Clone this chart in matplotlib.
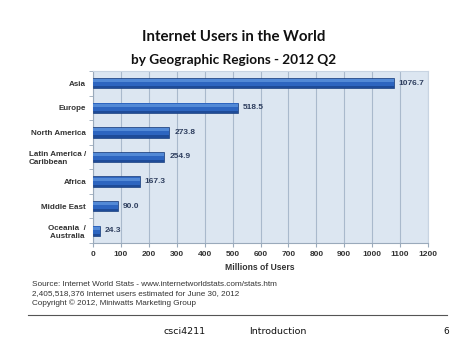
import matplotlib
matplotlib.use("Agg")
import matplotlib.pyplot as plt
import numpy as np

regions = ["Asia", "Europe", "North America", "Latin America /\nCaribbean",
           "Africa", "Middle East", "Oceania  /\n Australia"]
users = [1076.7, 518.5, 273.8, 254.9, 167.3, 90.0, 24.3]
value_labels = ["1076.7", "518.5", "273.8", "254.9", "167.3", "90.0", "24.3"]
xticks = list(range(0, 1300, 100))

title_lines = ["Internet Users in the World", "by Geographic Regions - 2012 Q2"]
xlabel = "Millions of Users"
source_lines = ["Source: Internet World Stats - www.internetworldstats.com/stats.htm",
                "2,405,518,376 Internet users estimated for June 30, 2012",
                "Copyright \u00a9 2012, Miniwatts Marketing Group"]
footer = ["csci4211", "Introduction", "6"]

W, H = 474, 355
fig = plt.figure(figsize=(W / 100, H / 100), dpi=100)
fig.patch.set_facecolor("white")

ax = fig.add_axes([93 / W, 1 - 243 / H, (428 - 93) / W, (243 - 71) / H])
ax.set_facecolor("#dce6f1")

LS = "Liberation Sans"
y = np.arange(len(regions))
ax.barh(y, users, height=0.42, color="#1e4b98", edgecolor="#1a3f80", linewidth=0.5, zorder=3)
ax.barh(y - 0.03, users, height=0.3, color="#2d65c0", linewidth=0, zorder=4)
ax.barh(y - 0.1, users, height=0.12, color="#5289d6", linewidth=0, zorder=5)

for yi, v, lab in zip(y, users, value_labels):
    ax.text(v + 18, yi, lab, va="center", ha="left", fontsize=6.0, family=LS,
            fontweight="bold", color="#2f3f5f", zorder=6)

ax.set_xlim(0, 1200)
ax.set_ylim(len(regions) - 0.5, -0.5)
ax.set_xticks(xticks)
ax.set_xticklabels([str(t) for t in xticks], fontsize=6.0, fontweight="bold",
                   family=LS, color="#333333")
ax.set_yticks(y)
ax.set_yticklabels(regions, fontsize=5.8, fontweight="bold", family=LS, color="#333333")
for t in ax.get_yticklabels():
    t.set_multialignment("left")
ax.set_yticks(np.arange(len(regions) + 1) - 0.5, minor=True)
ax.tick_params(axis="y", which="major", length=0, pad=5)
ax.tick_params(axis="y", which="minor", length=3, color="#9aaabb")
ax.tick_params(axis="x", length=3, color="#9aaabb", pad=3)
ax.grid(axis="x", color="#a9b9cc", linewidth=0.8, zorder=0)
for s in ["top", "right"]:
    ax.spines[s].set_color("#c8d4e2")
for s in ["left", "bottom"]:
    ax.spines[s].set_color("#9aaabb")

fig.text(260 / W, 1 - 268 / H, xlabel, ha="center", va="center",
         fontsize=6.2, fontweight="bold", family=LS, color="#333333")

fig.text(234 / W, 1 - 37 / H, title_lines[0], ha="center", va="center",
         fontsize=10.8, fontweight="bold", family="Lato", color="#111111")
fig.text(234 / W, 1 - 60 / H, title_lines[1], ha="center", va="center",
         fontsize=9.8, fontweight="bold", family="Lato", color="#111111")

for i, line in enumerate(source_lines):
    fig.text(32 / W, 1 - (284 + 9.5 * i) / H, line, ha="left", va="center",
             fontsize=5.9, family=LS, color="#333333")

fig.add_artist(plt.Line2D([28 / W, 447 / W], [1 - 315 / H, 1 - 315 / H],
                          color="#555555", linewidth=0.8))
fig.text(185 / W, 1 - 331 / H, footer[0], ha="center", va="center", fontsize=6.8, color="#111111")
fig.text(278 / W, 1 - 331 / H, footer[1], ha="center", va="center", fontsize=6.8, color="#111111")
fig.text(446 / W, 1 - 331 / H, footer[2], ha="center", va="center", fontsize=6.5, color="#111111")

fig.savefig("out.png", dpi=100)
